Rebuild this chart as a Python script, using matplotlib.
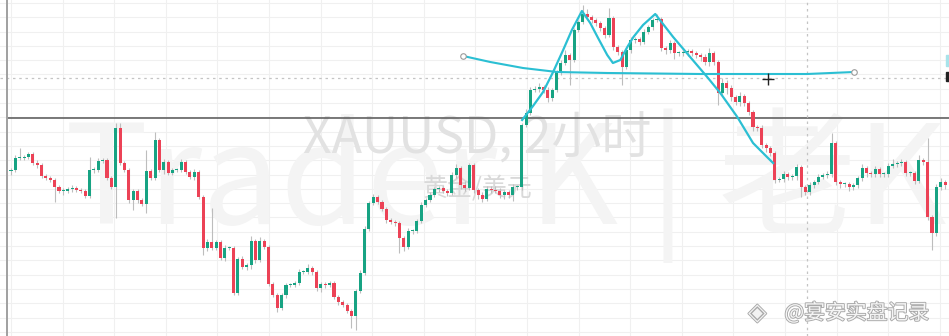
import numpy as np
import matplotlib.pyplot as plt
from matplotlib import patheffects
from matplotlib.lines import Line2D
from matplotlib.patches import Rectangle

plt.rcParams['font.family'] = ['Noto Sans CJK SC', 'DejaVu Sans']

# XAUUSD 2小时K线：收盘价，开盘价取前一根的收盘价
first_open = 2329
closes = [
    2330, 2342, 2342, 2343, 2346, 2337, 2335, 2324, 2322, 2320, 2313, 2309, 2309, 2311, 2312, 2310, 2309, 2304, 2330, 2330,
    2339, 2340, 2322, 2313, 2372, 2337, 2330, 2300, 2309, 2300, 2296, 2329, 2322, 2360, 2330, 2338, 2327, 2330, 2330, 2338,
    2328, 2323, 2328, 2303, 2252, 2258, 2252, 2258, 2242, 2252, 2252, 2207, 2241, 2233, 2235, 2259, 2240, 2259, 2253, 2216,
    2205, 2192, 2205, 2215, 2215, 2217, 2228, 2228, 2232, 2228, 2212, 2216, 2215, 2217, 2203, 2198, 2195, 2189, 2184, 2209,
    2227, 2271, 2297, 2303, 2298, 2291, 2280, 2278, 2277, 2262, 2253, 2269, 2269, 2279, 2295, 2300, 2305, 2311, 2312, 2309,
    2307, 2325, 2332, 2315, 2312, 2335, 2310, 2305, 2301, 2311, 2310, 2309, 2305, 2308, 2305, 2313, 2313, 2375, 2387, 2410,
    2411, 2413, 2410, 2402, 2410, 2428, 2437, 2445, 2440, 2470, 2478, 2486, 2483, 2480, 2477, 2472, 2465, 2482, 2453, 2448,
    2433, 2450, 2460, 2461, 2458, 2468, 2473, 2480, 2481, 2452, 2450, 2457, 2447, 2447, 2448, 2449, 2447, 2445, 2443, 2438,
    2447, 2438, 2407, 2417, 2412, 2403, 2398, 2404, 2397, 2388, 2373, 2372, 2355, 2352, 2347, 2320, 2321, 2326, 2323, 2324,
    2333, 2313, 2308, 2315, 2318, 2323, 2325, 2326, 2357, 2318, 2316, 2316, 2313, 2315, 2322, 2332, 2327, 2326, 2331, 2326,
    2326, 2334, 2336, 2337, 2338, 2327, 2327, 2319, 2340, 2338, 2283, 2267, 2313, 2318, 2315,
]
# 上影线 / 下影线长度
upper_wick = [
    2, 3, 10, 2, 2, 2, 3, 2, 2, 2, 2, 2, 3, 2, 3, 2, 2, 2, 13, 3,
    3, 2, 2, 2, 5, 5, 2, 2, 2, 2, 2, 21, 2, 8, 2, 3, 2, 2, 2, 3,
    2, 2, 3, 2, 2, 3, 34, 2, 2, 3, 2, 2, 2, 3, 2, 5, 2, 4, 2, 2,
    2, 2, 2, 2, 2, 2, 3, 2, 4, 2, 2, 2, 2, 2, 2, 2, 2, 2, 2, 2,
    3, 3, 2, 3, 2, 2, 2, 2, 2, 2, 2, 3, 2, 2, 3, 2, 3, 2, 2, 2,
    2, 3, 4, 2, 4, 2, 2, 2, 3, 3, 3, 4, 3, 2, 2, 3, 2, 2, 4, 3,
    3, 4, 2, 3, 2, 2, 3, 5, 2, 2, 2, 9, 5, 2, 2, 2, 2, 10, 2, 2,
    2, 2, 3, 2, 2, 3, 2, 2, 5, 2, 2, 3, 2, 2, 2, 2, 2, 2, 2, 3,
    5, 2, 2, 5, 3, 3, 2, 4, 2, 2, 2, 2, 3, 2, 2, 2, 2, 3, 2, 2,
    3, 2, 2, 3, 2, 3, 2, 3, 10, 2, 2, 2, 2, 2, 2, 4, 2, 2, 3, 2,
    2, 3, 5, 2, 3, 2, 2, 2, 5, 2, 24, 2, 3, 4, 2,
]
lower_wick = [
    4, 2, 2, 2, 2, 2, 3, 2, 2, 2, 15, 2, 4, 2, 3, 2, 2, 2, 2, 3,
    2, 2, 2, 2, 31, 2, 2, 3, 10, 3, 2, 9, 2, 2, 2, 4, 2, 2, 2, 2,
    2, 2, 3, 2, 7, 3, 2, 2, 2, 3, 2, 2, 2, 2, 3, 4, 3, 2, 2, 2,
    2, 4, 2, 3, 2, 2, 2, 2, 2, 3, 3, 4, 3, 2, 2, 3, 2, 2, 12, 14,
    2, 2, 2, 2, 2, 2, 3, 2, 3, 15, 4, 2, 3, 2, 2, 2, 2, 2, 3, 2,
    3, 2, 3, 4, 3, 2, 3, 4, 3, 2, 3, 2, 3, 4, 3, 6, 3, 3, 2, 2,
    2, 3, 3, 4, 3, 2, 3, 2, 25, 2, 2, 2, 2, 3, 3, 3, 3, 2, 3, 3,
    18, 2, 3, 3, 3, 2, 2, 3, 2, 3, 4, 3, 6, 3, 3, 4, 3, 3, 4, 3,
    4, 3, 12, 3, 6, 4, 3, 4, 3, 3, 4, 3, 3, 4, 3, 3, 2, 3, 3, 3,
    4, 10, 3, 3, 3, 2, 2, 3, 3, 3, 4, 3, 4, 3, 3, 3, 4, 3, 3, 3,
    3, 3, 2, 3, 3, 3, 3, 3, 2, 3, 3, 17, 3, 3, 4,
]

# 手绘的双顶(M头)线：K线序号, 价格
pattern_x = [117.1, 119.6, 121.9, 124.2, 126.5, 128.5, 130.8, 132.7, 134.5, 136.6, 137.9,
             139.6, 141.2, 142.6, 144.8, 147.6, 151.7, 159.5, 162.5, 166.4, 170.0, 173.2, 174.6]
pattern_y = [2380, 2394, 2408, 2428, 2450, 2470, 2489, 2477, 2462, 2445, 2437,
             2440, 2453, 2463, 2475, 2486, 2463, 2423, 2407, 2383, 2357, 2343, 2337]
# 颈线
neck_x = [103.6, 109.8, 117.3, 125.1, 136.6, 157.9, 182.4, 193.2]
neck_y = [2444, 2438, 2432, 2428, 2427, 2426, 2426, 2428]

level_solid = 2382
level_dotted = 2422
crosshair_x = 182.4
cursor_x, cursor_y = 173.5, 2421

green = '#17a383'
red = '#ec4256'
cyan = '#2bbfd3'

opens = np.array([first_open] + closes[:-1])
closes = np.array(closes)
highs = np.maximum(opens, closes) + np.array(upper_wick)
lows = np.minimum(opens, closes) - np.array(lower_wick)
idx = np.arange(len(closes))
up = closes >= opens
colors = np.where(up, green, red)

fig = plt.figure(figsize=(9.49, 3.36), dpi=100)
ax = fig.add_axes([0, 0, 1, 1])
ax.set_xlim(-2.52, 214.9)
ax.set_ylim(2164, 2500)
ax.axis('off')

# 网格
for gy in np.arange(2368.3 - 14.3 * 15, 2500, 14.3):
    ax.axhline(gy, color='#f0f0f0', lw=0.8, zorder=0)
for gx in np.arange(11.85 - 11.82, 216, 11.82):
    ax.axvline(gx, color='#f0f0f0', lw=0.8, zorder=0)

# 水印
ax.text(0.533, 0.45, 'Trader K | 老K', transform=ax.transAxes, ha='center', va='center',
        fontsize=100, color='#f4f4f4', zorder=0.5)
ax.text(0.503, 0.585, 'XAUUSD, 2小时', transform=ax.transAxes, ha='center', va='center',
        fontsize=36, color='#e2e2e2', zorder=0.6)
ax.text(0.503, 0.435, '黄金/美元', transform=ax.transAxes, ha='center', va='center',
        fontsize=18, color='#d9d9d9', zorder=0.6)

# 参考线
ax.axhline(level_solid, xmin=8 / 949, color='#555555', lw=1.1, zorder=1)
ax.axhline(level_dotted, color='#c4c4c4', lw=0.9, ls=(0, (2, 3)), zorder=1)
ax.axvline(crosshair_x, color='#c4c4c4', lw=0.9, ls=(0, (2, 3)), zorder=1)

# K线
ax.vlines(idx, lows, highs, color='#bdbdbd', lw=0.8, zorder=2)
body = np.maximum(np.abs(closes - opens), 0.8)
ax.bar(idx, body, bottom=np.minimum(opens, closes), width=0.7, color=colors, zorder=3)

# 画线
ax.plot(neck_x, neck_y, color=cyan, lw=1.5, zorder=4, solid_capstyle='round')
ax.plot([neck_x[0], neck_x[-1]], [neck_y[0], neck_y[-1]], 'o', ms=4, mfc='white',
        mec='#9a9a9a', mew=0.8, zorder=5)
ax.plot(pattern_x, pattern_y, color=cyan, lw=1.6, zorder=4, solid_joinstyle='round')
ax.plot(cursor_x, cursor_y, '+', color='#222222', ms=9, mew=1, zorder=6)

# 右下角水印
wm = [patheffects.withStroke(linewidth=1.3, foreground='#a8a8a8')]
ax.text(0.798, 0.068, '◈', transform=ax.transAxes, ha='center', va='center',
        fontsize=17, color='#f2f2f2', path_effects=wm, zorder=7)
ax.text(0.903, 0.068, '@宴安实盘记录', transform=ax.transAxes, ha='center', va='center',
        fontsize=15, color='#f4f4f4', path_effects=wm, zorder=7)

# 左边框和右侧价格标签残边
fig.add_artist(Line2D([7 / 949, 7 / 949], [0, 1], color='#a0a0a0', lw=1.4))
fig.add_artist(Rectangle((946 / 949, 1 - 66 / 336), 3 / 949, 11 / 336,
                         transform=fig.transFigure, color='#a8e3ea'))
fig.add_artist(Rectangle((946 / 949, 1 - 81 / 336), 3 / 949, 9 / 336,
                         transform=fig.transFigure, color='#222222'))

fig.savefig('out.png', dpi=100)
